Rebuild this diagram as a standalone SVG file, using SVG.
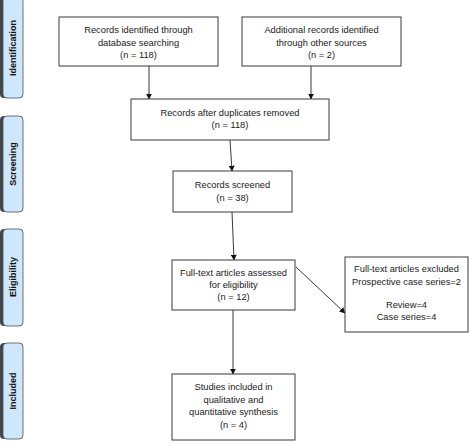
<svg xmlns="http://www.w3.org/2000/svg" width="474" height="447" viewBox="0 0 474 447">
<defs>
<style>
.box{fill:#fff;stroke:#3a3a3a;stroke-width:1}
.t{font-family:"Liberation Sans",Arial,sans-serif;font-size:9.3px;fill:#1a1a1a;text-anchor:middle}
.side-shadow{fill:#3f474d}
.side{fill:#cfe7fa;stroke:#4a5157;stroke-width:0.8}
.st{font-family:"Liberation Sans",Arial,sans-serif;font-size:9px;font-weight:bold;fill:#111;text-anchor:middle}
.c{stroke:#222;stroke-width:0.9;fill:none;marker-end:url(#ah)}
</style>
<marker id="ah" viewBox="0 0 10 10" refX="9" refY="5" markerWidth="6" markerHeight="6" orient="auto" markerUnits="userSpaceOnUse">
<path d="M0,0 L10,5 L0,10 z" fill="#111"/>
</marker>
</defs>
<rect width="474" height="447" fill="#fff"/>

<g id="side-identification">
<rect class="side-shadow" x="0" y="-3" width="23" height="101" rx="4"/>
<rect class="side" x="3" y="-3" width="20" height="101" rx="4"/>
<text class="st" transform="translate(16,48) rotate(-90)">Identification</text>
</g>
<g id="side-screening">
<rect class="side-shadow" x="0" y="116" width="23" height="96" rx="4"/>
<rect class="side" x="3" y="116" width="20" height="96" rx="4"/>
<text class="st" transform="translate(16,164) rotate(-90)">Screening</text>
</g>
<g id="side-eligibility">
<rect class="side-shadow" x="0" y="229" width="23" height="97" rx="4"/>
<rect class="side" x="3" y="229" width="20" height="97" rx="4"/>
<text class="st" transform="translate(16,277) rotate(-90)">Eligibility</text>
</g>
<g id="side-included">
<rect class="side-shadow" x="0" y="343" width="23" height="96" rx="4"/>
<rect class="side" x="3" y="343" width="20" height="96" rx="4"/>
<text class="st" transform="translate(16,391) rotate(-90)">Included</text>
</g>

<g id="connectors">
<line class="c" x1="149" y1="66" x2="149" y2="99"/>
<line class="c" x1="311" y1="66" x2="311" y2="99"/>
<line class="c" x1="230" y1="140" x2="232" y2="171"/>
<line class="c" x1="232" y1="212" x2="234" y2="260"/>
<line class="c" x1="296" y1="267" x2="345" y2="313"/>
<line class="c" x1="233" y1="310" x2="233" y2="374"/>
</g>

<g id="n1">
<rect class="box" x="59" y="17" width="159" height="49"/>
<text class="t" x="138.5" y="33">Records identified through</text>
<text class="t" x="138.5" y="46">database searching</text>
<text class="t" x="138.5" y="58">(n = 118)</text>
</g>
<g id="n2">
<rect class="box" x="242" y="17" width="159" height="49"/>
<text class="t" x="321.5" y="33">Additional records identified</text>
<text class="t" x="321.5" y="46">through other sources</text>
<text class="t" x="321.5" y="58">(n = 2)</text>
</g>
<g id="n3">
<rect class="box" x="131" y="99" width="198" height="41"/>
<text class="t" x="230" y="116">Records after duplicates removed</text>
<text class="t" x="230" y="128">(n = 118)</text>
</g>
<g id="n4">
<rect class="box" x="173" y="171" width="119" height="41"/>
<text class="t" x="232.5" y="188">Records screened</text>
<text class="t" x="232.5" y="201">(n = 38)</text>
</g>
<g id="n5">
<rect class="box" x="172" y="260" width="123" height="50"/>
<text class="t" x="233.5" y="276">Full-text articles assessed</text>
<text class="t" x="233.5" y="288">for eligibility</text>
<text class="t" x="233.5" y="300">(n = 12)</text>
</g>
<g id="n6">
<rect class="box" x="345" y="257" width="123" height="75"/>
<text class="t" x="406.5" y="272">Full-text articles excluded</text>
<text class="t" x="406.5" y="285">Prospective case series=2</text>
<text class="t" x="406.5" y="308">Review=4</text>
<text class="t" x="406.5" y="320">Case series=4</text>
</g>
<g id="n7">
<rect class="box" x="172" y="374" width="123" height="66"/>
<text class="t" x="233.5" y="390">Studies included in</text>
<text class="t" x="233.5" y="403">qualitative and</text>
<text class="t" x="233.5" y="415">quantitative synthesis</text>
<text class="t" x="233.5" y="428">(n = 4)</text>
</g>
</svg>
